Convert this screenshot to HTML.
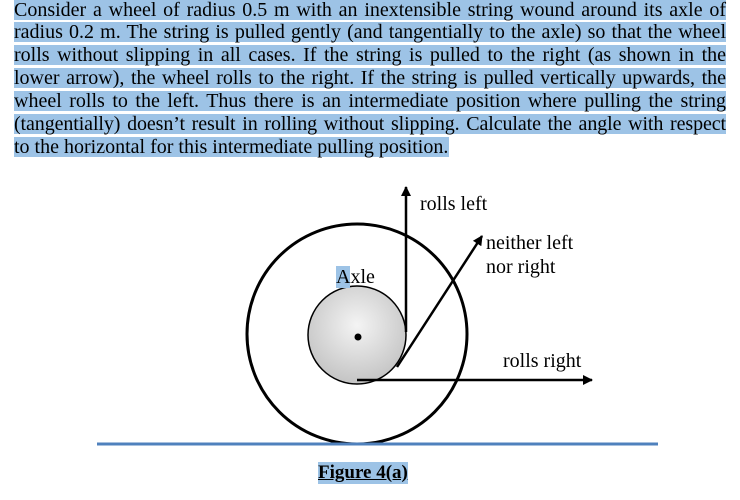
<!DOCTYPE html>
<html><head><meta charset="utf-8"><style>
html,body{margin:0;padding:0;background:#fff;width:740px;height:500px;overflow:hidden;position:relative;font-family:"Liberation Serif",serif;color:#000}
.l{position:absolute;left:14px;width:712px;height:20px;background:#9dc3e6;font-size:20px;line-height:20px;text-align:justify;text-align-last:justify;white-space:nowrap;}
.t{position:absolute;font-size:20px;line-height:22px;white-space:nowrap}
</style></head><body>
<div class="l" style="top:0px">Consider a wheel of radius 0.5 m with an inextensible string wound around its axle of</div>
<div class="l" style="top:22px">radius 0.2 m. The string is pulled gently (and tangentially to the axle) so that the wheel</div>
<div class="l" style="top:45px">rolls without slipping in all cases. If the string is pulled to the right (as shown in the</div>
<div class="l" style="top:68px">lower arrow), the wheel rolls to the right. If the string is pulled vertically upwards, the</div>
<div class="l" style="top:91px">wheel rolls to the left. Thus there is an intermediate position where pulling the string</div>
<div class="l" style="top:114px;letter-spacing:-0.1px">(tangentially) doesn’t result in rolling without slipping. Calculate the angle with respect</div>
<div class="l" style="top:137px;width:auto;text-align-last:auto;text-align:left;padding-right:1px">to the horizontal for this intermediate pulling position.</div>
<svg width="740" height="500" style="position:absolute;left:0;top:0">
<defs>
<radialGradient id="g" cx="50%" cy="40%" r="60%"><stop offset="0" stop-color="#f4f4f4"/><stop offset="1" stop-color="#c4c4c4"/></radialGradient>
<marker id="a" markerWidth="10" markerHeight="10" refX="9" refY="5" orient="auto" markerUnits="userSpaceOnUse"><path d="M0,0 L10,5 L0,10 z" fill="#000"/></marker>
</defs>
<circle cx="357" cy="334" r="110" fill="none" stroke="#000" stroke-width="3"/>
<circle cx="357" cy="335" r="49" fill="url(#g)" stroke="#000" stroke-width="1.5"/>
<circle cx="358" cy="337" r="3.5" fill="#000"/>
<line x1="406" y1="332" x2="406" y2="187" stroke="#000" stroke-width="2.5" marker-end="url(#a)"/>
<line x1="397" y1="367" x2="482" y2="236" stroke="#000" stroke-width="2.5" marker-end="url(#a)"/>
<line x1="357" y1="380" x2="592" y2="380" stroke="#000" stroke-width="2.5" marker-end="url(#a)"/>
<line x1="97" y1="444" x2="658" y2="444" stroke="#4f81bd" stroke-width="3"/>
</svg>
<div class="t" style="left:420px;top:193px">rolls left</div>
<div class="t" style="left:486px;top:232px">neither left</div>
<div class="t" style="left:486px;top:256px">nor right</div>
<div class="t" style="left:336px;top:266px"><span style="background:#9dc3e6">A</span>xle</div>
<div class="t" style="left:503px;top:350px">rolls right</div>
<div class="t" style="left:318px;top:462px;font-weight:bold;text-decoration:underline;background:#9dc3e6;font-size:19px">Figure 4(a)</div>
</body></html>
